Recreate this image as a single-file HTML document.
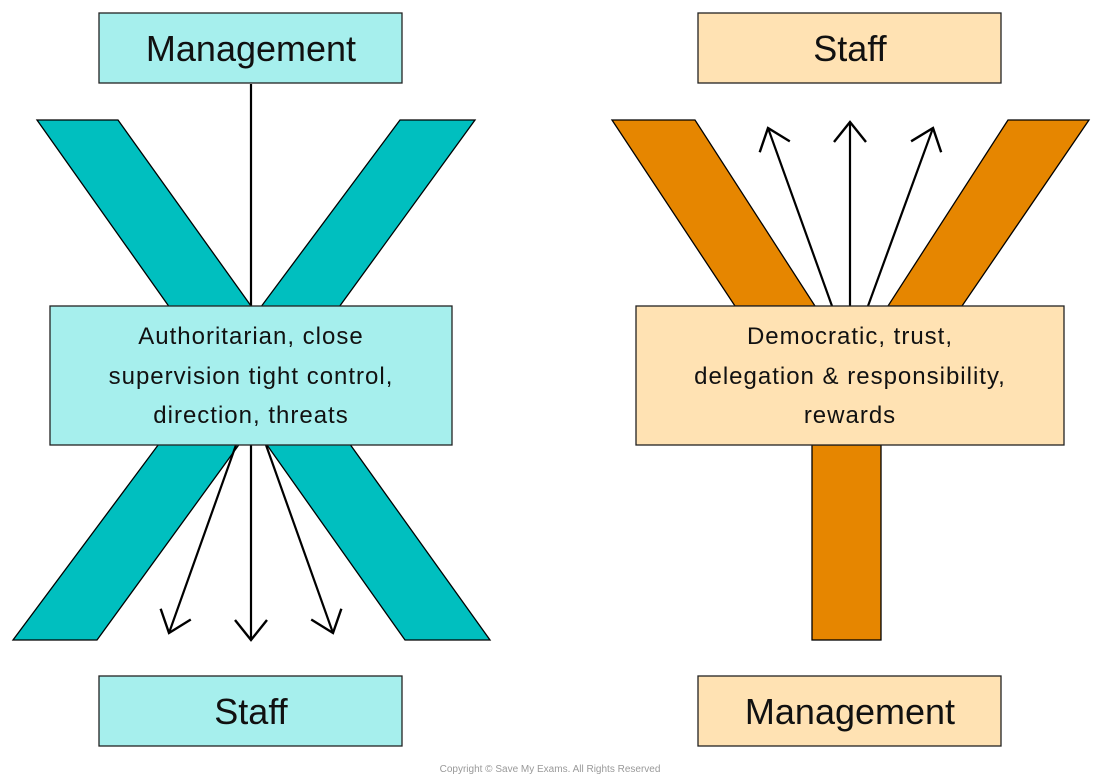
<!DOCTYPE html>
<html><head><style>
body{margin:0;background:#fff;width:1100px;height:779px;overflow:hidden}
svg text{font-family:"Liberation Sans",sans-serif;fill:#111}
</style></head><body>
<svg width="1100" height="779" viewBox="0 0 1100 779">
<defs>
<marker id="b" viewBox="0 0 26 36" markerWidth="26" markerHeight="36" refX="24" refY="18" orient="auto" markerUnits="userSpaceOnUse"><path d="M4,2 L24,18 L4,34" fill="none" stroke="#000" stroke-width="2.4"/></marker></defs>
<g stroke="#000" stroke-width="1.3">
<polygon points="37,120 118,120 490,640 405,640" fill="#00bfbf"/>
<polygon points="400,120 475,120 97,640 13,640" fill="#00bfbf"/>
<polygon points="612,120 695,120 815,306 735,306" fill="#e68600"/>
<polygon points="1008,120 1089,120 962,306 888,306" fill="#e68600"/>
<rect x="812" y="445" width="69" height="195" fill="#e68600"/>
</g>
<g stroke="#000" stroke-width="2.2" fill="none" marker-end="url(#b)">
<line x1="251" y1="84" x2="251" y2="640"/>
<line x1="236" y1="445" x2="169" y2="633"/>
<line x1="266" y1="445" x2="333" y2="633"/>
<line x1="850" y1="306" x2="850" y2="122"/>
<line x1="832" y1="306" x2="768" y2="128"/>
<line x1="868" y1="306" x2="933" y2="128"/>
</g>
<g stroke="#222" stroke-width="1.3">
<rect x="50" y="306" width="402" height="139" fill="#a6efed"/>
<rect x="636" y="306" width="428" height="139" fill="#ffe2b3"/>
<rect x="99" y="13" width="303" height="70" fill="#a6efed"/>
<rect x="698" y="13" width="303" height="70" fill="#ffe2b3"/>
<rect x="99" y="676" width="303" height="70" fill="#a6efed"/>
<rect x="698" y="676" width="303" height="70" fill="#ffe2b3"/>
</g>
<g text-anchor="middle" font-size="36">
<text x="251" y="61">Management</text>
<text x="850" y="61">Staff</text>
<text x="251" y="724">Staff</text>
<text x="850" y="724">Management</text>
</g>
<g text-anchor="middle" font-size="24" letter-spacing="1">
<text x="251" y="344">Authoritarian, close</text>
<text x="251" y="384">supervision tight control,</text>
<text x="251" y="423">direction, threats</text>
<text x="850" y="344">Democratic, trust,</text>
<text x="850" y="384">delegation &amp; responsibility,</text>
<text x="850" y="423">rewards</text>
</g>
<text x="550" y="772" text-anchor="middle" font-size="10" style="fill:#999">Copyright © Save My Exams. All Rights Reserved</text>
</svg>
</body></html>
